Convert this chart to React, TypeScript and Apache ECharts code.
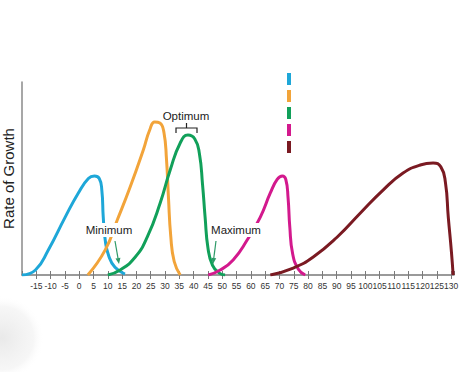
import React, { useEffect, useRef } from "react";
import * as echarts from "echarts";

const xTicks = [-15, -10, -5, 0, 5, 10, 15, 20, 25, 30, 35, 40, 45, 50, 55, 60, 65, 70, 75, 80, 85, 90, 95, 100, 105, 110, 115, 120, 125, 130];

const seriesNames = ["Psychrophiles", "Psychrotrophs", "Mesophiles", "Thermophiles", "Hyperthermophiles"];
const seriesColors = ["#1ea7d8", "#f2a43a", "#11a05a", "#d3198d", "#7a1a22"];

const psychrophiles: [number, number][] = [
  [-20, 0], [-15.3, 2.6], [-10.8, 13], [-4.9, 30], [-0.3, 42.5], [3.2, 50], [5.3, 51.3],
  [7, 50], [7.9, 44], [8.4, 30], [9.1, 18], [10.3, 10], [12.5, 4], [16, 0.5],
];
const psychrotrophs: [number, number][] = [
  [3, 0], [9.1, 13], [13.3, 28.5], [17.8, 45.6], [22.4, 64.8], [24.6, 75], [26.4, 79.3],
  [28.2, 78.8], [29.6, 74], [30.5, 60], [31.2, 40], [32, 20], [33.2, 7], [35.3, 0],
];
const mesophiles: [number, number][] = [
  [10, 0], [14.3, 2.6], [19.6, 9.3], [23.8, 19.7], [28.3, 37.3], [31.8, 54.4], [35.3, 68.4],
  [38, 72.5], [40.4, 70.5], [42, 63], [43.1, 47], [44, 30], [45, 14], [46.6, 5], [49, 1], [51, 0],
];
const thermophiles: [number, number][] = [
  [45.1, 0], [49.3, 2.6], [53.8, 7.8], [58.7, 18.1], [63.3, 30], [66.8, 42.5], [69.2, 49.5],
  [71, 51.3], [72.2, 49.5], [73, 40], [73.6, 25], [74.6, 11], [76.6, 3], [79, 0],
];
const hyperthermophiles: [number, number][] = [
  [66.8, 0], [74.8, 3.6], [81.8, 9.3], [90.2, 19.7], [98.2, 32], [106.2, 44], [113.2, 52.8],
  [119.2, 57], [123.7, 58], [126.4, 56], [128, 48], [129, 30], [130.1, 12], [130.7, 0],
];

const allSeries = [psychrophiles, psychrotrophs, mesophiles, thermophiles, hyperthermophiles];

export default function App() {
  const ref = useRef<HTMLDivElement>(null);
  useEffect(() => {
    if (!ref.current) return;
    const chart = echarts.init(ref.current, null, { renderer: "svg" });
    const font = "Liberation Sans, Arial, sans-serif";
    const arrowColor = "#2e9a68";
    const arrow = (x1: number, y1: number, x2: number, y2: number) => {
      const dx = x2 - x1, dy = y2 - y1;
      const len = Math.sqrt(dx * dx + dy * dy);
      const ux = dx / len, uy = dy / len;
      const hl = 6, hw = 2.5;
      const bx = x2 - ux * hl, by = y2 - uy * hl;
      return [
        { type: "line", z: 100, shape: { x1, y1, x2: bx, y2: by }, style: { stroke: arrowColor, lineWidth: 1.2 } },
        {
          type: "polygon",
          z: 100,
          shape: { points: [[x2, y2], [bx - uy * hw, by + ux * hw], [bx + uy * hw, by - ux * hw]] },
          style: { fill: arrowColor },
        },
      ];
    };
    const label = (text: string, x: number, y: number) => ({
      type: "text",
      x,
      y,
      z: 100,
      style: {
        text,
        fontSize: 11.5,
        fill: "#222",
        fontFamily: font,
        align: "center",
        verticalAlign: "middle",
        backgroundColor: "#ffffff",
        padding: [1, 0],
      },
    });
    chart.setOption({
      animation: false,
      backgroundColor: "#ffffff",
      grid: { left: 22, right: 20, top: 82, bottom: 97, outerBoundsMode: "none", containLabel: false },
      legend: {
        orient: "vertical",
        left: 287,
        top: 73,
        icon: "rect",
        itemWidth: 4,
        itemHeight: 12,
        itemGap: 5,
        padding: 0,
        formatter: () => "",
        selectedMode: false,
        data: seriesNames,
      },
      xAxis: [
        {
          type: "value",
          min: -20,
          max: 131,
          interval: 5,
          position: "bottom",
          splitLine: { show: false },
          axisLine: { onZero: false, lineStyle: { color: "#7a7a7a", width: 1.5 } },
          axisTick: { length: 4, lineStyle: { color: "#7a7a7a", width: 1 } },
          axisLabel: {
            margin: 6,
            fontSize: 8.5,
            color: "#333",
            fontFamily: font,
            showMinLabel: false,
            showMaxLabel: false,
            formatter: (v: number) => (xTicks.includes(v) ? String(v) : ""),
          },
        },
        {
          type: "value",
          min: -20,
          max: 131,
          interval: 5,
          position: "bottom",
          splitLine: { show: false },
          axisLine: { show: false, onZero: false },
          axisTick: { inside: true, length: 4, lineStyle: { color: "#7a7a7a", width: 1 } },
          axisLabel: { show: false },
        },
      ],
      yAxis: {
        type: "value",
        min: 0,
        max: 100,
        name: "Rate of Growth",
        nameLocation: "middle",
        nameGap: 6,
        nameTextStyle: { fontSize: 15, color: "#222", fontFamily: font },
        splitLine: { show: false },
        axisLine: { show: true, onZero: false, lineStyle: { color: "#8a8a8a", width: 1.5 } },
        axisTick: { show: false },
        axisLabel: { show: false },
      },
      series: allSeries.map((d, i) => ({
        name: seriesNames[i],
        type: "line",
        data: d,
        smooth: 0.5,
        showSymbol: false,
        color: seriesColors[i],
        lineStyle: { width: 3, color: seriesColors[i] },
        z: 2 + i,
      })),
      graphic: [
        {
          type: "circle",
          shape: { cx: 2, cy: 338, r: 42 },
          style: {
            fill: new echarts.graphic.RadialGradient(0.5, 0.5, 0.5, [
              { offset: 0, color: "rgba(215,215,215,0.55)" },
              { offset: 0.75, color: "rgba(230,230,230,0.35)" },
              { offset: 1, color: "rgba(255,255,255,0)" },
            ]),
          },
          z: -10,
          silent: true,
        },
        label("Optimum", 186, 116),
        {
          type: "polyline",
          z: 100,
          shape: { points: [[176, 133], [176, 128], [197, 128], [197, 133]] },
          style: { stroke: "#222", lineWidth: 1.2, fill: "none" },
        },
        { type: "line", z: 100, shape: { x1: 186.5, y1: 128, x2: 186.5, y2: 123 }, style: { stroke: "#222", lineWidth: 1.2 } },
        label("Minimum", 109, 230),
        ...arrow(115, 241, 119, 264),
        label("Maximum", 236, 230),
        ...arrow(216, 241, 213, 264),
      ],
    });
    return () => chart.dispose();
  }, []);
  return <div ref={ref} style={{ width: 474, height: 372, position: "absolute", left: 0, top: 0 }} />;
}
